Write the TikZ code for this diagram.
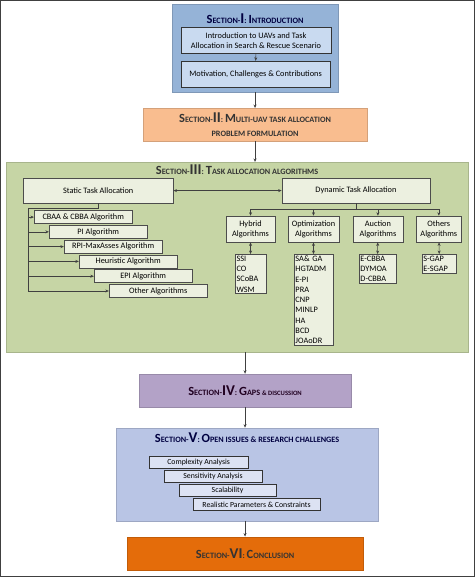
\documentclass[tikz,border=0pt]{standalone}
\usepackage{fontspec}
\setmainfont{Carlito}
\usetikzlibrary{arrows.meta}
\definecolor{secone}{HTML}{95B3D7}
\definecolor{sectwo}{HTML}{F9BD8F}
\definecolor{secthree}{HTML}{C6D5A5}
\definecolor{secfour}{HTML}{B3A2C7}
\definecolor{secfive}{HTML}{B9C5E5}
\definecolor{secsix}{HTML}{E46C0A}
\definecolor{introfill}{HTML}{C9DAF0}
\definecolor{algfill}{HTML}{ECF0E0}
\definecolor{openfill}{HTML}{DCE2F3}
\definecolor{linegray}{HTML}{404040}
\newcommand{\Sc}[1]{{\fontsize{12.5}{13}\selectfont #1}}
\newcommand{\Rn}[1]{{\fontsize{15}{15}\selectfont #1}}
\newcommand{\Tn}[1]{{\fontsize{6.6}{8}\selectfont #1}}
\begin{document}
\begin{tikzpicture}[x=1pt, y=-1pt, >={Stealth[length=3.5pt,width=3pt]},
  every path/.style={draw=linegray, line width=0.6pt},
  secbox/.style={draw=#1!85!black, line width=0.3pt, fill=#1, inner sep=0pt},
  sectitle/.style={font=\fontsize{8.2}{15}\selectfont\bfseries, inner sep=0pt, align=center},
  introbox/.style={draw=black!80, line width=0.8pt, fill=introfill, font=\fontsize{8.3}{10}\selectfont, align=center, inner sep=1pt},
  algbox/.style={draw=black!70, line width=0.7pt, fill=algfill, font=\fontsize{8.3}{10}\selectfont, align=center, inner sep=1pt},
  itembox/.style={algbox, minimum width=98pt, minimum height=13pt},
  catbox/.style={algbox, minimum height=26pt},
  listbox/.style={draw=black!70, line width=0.7pt, fill=algfill, font=\fontsize{8.3}{10.3}\selectfont, align=left, anchor=north, inner sep=1.5pt},
  openbox/.style={draw=black!80, line width=0.7pt, fill=openfill, font=\fontsize{7.8}{9}\selectfont, minimum height=12pt, inner sep=1pt}]
\useasboundingbox (0,0) rectangle (474,577);

% Section I
\node[secbox=secone, minimum width=166pt, minimum height=88pt] (s1) at (255,48) {};
\node[sectitle, text=black!75!blue] (t1) at (255,18) {\Sc{S}ECTION-\Rn{I}: \Sc{I}NTRODUCTION};
\node[introbox, minimum width=150pt, minimum height=26pt] (intro) at (256,40) {Introduction to UAVs and Task\\Allocation in Search \& Rescue Scenario};
\node[introbox, minimum width=149pt, minimum height=26pt] (motiv) at (255.5,74) {Motivation, Challenges \& Contributions};
\draw[->] (intro) -- (motiv);

% Section II
\node[secbox=sectwo, minimum width=224pt, minimum height=33pt] (s2) at (255,124.5) {};
\node[sectitle, text=black!80] (t2) at (255,124.5) {\Sc{S}ECTION-\Rn{II}: \Sc{M}ULTI-UAV TASK ALLOCATION\\PROBLEM FORMULATION};
\draw[->] (s1) -- (s2);

% Section III
\node[secbox=secthree, minimum width=462pt, minimum height=190pt] (s3) at (237,257) {};
\node[sectitle, text=black!80] (t3) at (237,170) {\Sc{S}ECTION-\Rn{III}: \Sc{T}ASK ALLOCATION ALGORITHMS};
\draw[->] (s2.south) -- (s2.south |- s3.north);
\node[algbox, minimum width=150pt, minimum height=25pt] (static) at (98,190.5) {Static Task Allocation};
\node[algbox, minimum width=148pt, minimum height=25pt] (dynamic) at (356,190.5) {Dynamic Task Allocation};
\draw[<->] (static) -- (dynamic);

% static branch
\coordinate (sbend) at (98,208);
\coordinate (strunk) at (28,208);
\foreach \txt [count=\i from 0] in {CBAA \& CBBA Algorithm, PI Algorithm, RPI-MaxAsses Algorithm, Heuristic Algorithm, EPI Algorithm, Other Algorithms} {
  \node[itembox] (st\i) at (83+15*\i, 217+14.8*\i) {\txt};
  \draw[->] (strunk |- st\i.west) -- (st\i.west);
}
\draw (static.south) -- (sbend) -- (strunk) -- (strunk |- st5.west);

% dynamic branch
\node[catbox, minimum width=49pt] (hybrid) at (250.5,229) {Hybrid\\Algorithms};
\node[catbox, minimum width=51pt] (optim) at (313.5,229) {Optimization\\Algorithms};
\node[catbox, minimum width=50pt] (auction) at (378,229) {Auction\\Algorithms};
\node[catbox, minimum width=46pt] (others) at (439,229) {Others\\Algorithms};
\coordinate (dbus) at (356,209);
\draw (dynamic.south) -- (dbus);
\draw (hybrid.north |- dbus) -- (others.north |- dbus);
\foreach \c in {hybrid,optim,auction,others}
  \draw[->] (\c.north |- dbus) -- (\c.north);

\node[listbox, text width=28pt] (hybridl) at (250.5,254) {SSI\\CO\\SCoBA\\WSM};
\node[listbox, text width=36pt] (optiml) at (313.5,254) {SA\& GA\\HGTADM\\E-PI\\PRA\\CNP\\MINLP\\HA\\BCD\\JOAoDR};
\node[listbox, text width=34pt] (auctionl) at (377.5,254) {E-CBBA\\DYMOA\\D-CBBA};
\node[listbox, text width=32pt] (othersl) at (439.5,254) {S-GAP\\E-SGAP};
\foreach \c in {hybrid,optim,auction,others}
  \draw[<->] (\c) -- (\c l);

% Section IV
\node[secbox=secfour, minimum width=213pt, minimum height=33pt] (s4) at (245,390.5) {};
\node[sectitle, text=black!75!violet] (t4) at (245,391) {\Sc{S}ECTION-\Rn{IV}: \Sc{G}APS \Tn{\& DISCUSSION}};
\draw[->] (s4.north |- s3.south) -- (s4.north);

% Section V
\node[secbox=secfive, minimum width=262pt, minimum height=93pt] (s5) at (247,474.5) {};
\node[sectitle, text=black!75!blue] (t5) at (247,438) {\Sc{S}ECTION-\Rn{V}: \Sc{O}PEN ISSUES \& RESEARCH CHALLENGES};
\draw[->] (s4) -- (s4.south |- s5.north);
\node[openbox, minimum width=99pt] (complex) at (198.5,462.5) {Complexity Analysis};
\node[openbox, minimum width=98pt] (sensit) at (213,477) {Sensitivity Analysis};
\node[openbox, minimum width=97pt] (scal) at (227.5,491) {Scalability};
\node[openbox, minimum width=127pt] (real) at (256.5,505) {Realistic Parameters \& Constraints};

% Section VI
\node[secbox=secsix, minimum width=236pt, minimum height=33pt] (s6) at (245,553.5) {};
\node[sectitle, text=black!80] (t6) at (245,554) {\Sc{S}ECTION-\Rn{VI}: \Sc{C}ONCLUSION};
\draw[->] (s6.north |- s5.south) -- (s6.north);
\end{tikzpicture}
\end{document}
